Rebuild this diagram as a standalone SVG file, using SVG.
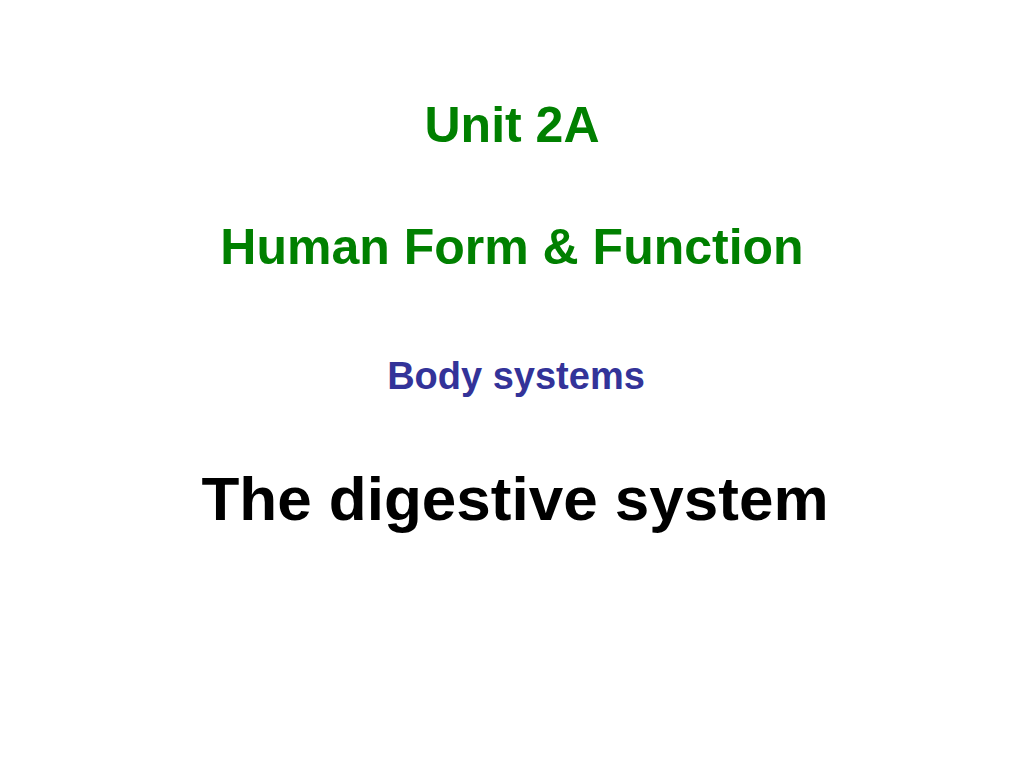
<svg xmlns="http://www.w3.org/2000/svg" width="1024" height="768" viewBox="0 0 1024 768">
<style>text{font-family:"Liberation Sans",Arial,sans-serif;font-weight:bold;text-anchor:middle}.g{fill:#008000;font-size:50px}</style>
<rect width="1024" height="768" fill="#fff"/>
<g id="title">
<text class="g" x="512" y="142">Unit 2A</text>
<text class="g" x="512" y="264">Human Form &amp; Function</text>
<text x="516" y="389" fill="#333399" font-size="38">Body systems</text>
<text x="515" y="520" fill="#000" font-size="62">The digestive system</text>
</g>
</svg>
